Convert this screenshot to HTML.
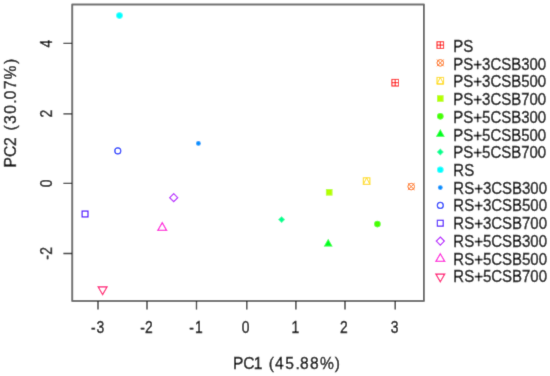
<!DOCTYPE html><html><head><meta charset="utf-8"><style>html,body{margin:0;padding:0;background:#fff;}svg{display:block;} text{font-family:"Liberation Sans",Arial,sans-serif;font-kerning:none;}</style></head><body>
<svg width="550" height="376" viewBox="0 0 550 376">
<defs><filter id="b" x="0" y="0" width="550" height="376" filterUnits="userSpaceOnUse"><feConvolveMatrix order="3" kernelMatrix="1 7 1 7 49 7 1 7 1" divisor="81" edgeMode="duplicate"/></filter></defs>
<rect width="550" height="376" fill="#fff"/>
<g filter="url(#b)"><rect width="550" height="376" fill="#fff"/>
<path d="M423.9 4.5V300.9" fill="none" stroke="#383838" stroke-width="1.5"/>
<path d="M72.2 4.5H423.9M423.9 300.9H72.2V4.5" fill="none" stroke="#6c6c6c" stroke-width="2.0" stroke-linejoin="round" stroke-linecap="round"/>
<path d="M98 300.9V309.4M147 300.9V309.4M196.5 300.9V309.4M246.8 300.9V309.4M295.9 300.9V309.4M345 300.9V309.4M395.2 300.9V309.4M72.2 43.4H63.4M72.2 113.9H63.4M72.2 183.4H63.4M72.2 253.5H63.4" stroke="#262626" stroke-width="1.35" fill="none"/>
<g fill="#000">
<text transform="translate(0 332.9) scale(0.88 1)" x="103.39 109.57" y="0" font-size="15.8" stroke="#000" stroke-width="0.35">-3</text>
<text transform="translate(0 332.9) scale(0.88 1)" x="159.24 164.92" y="0" font-size="15.8" stroke="#000" stroke-width="0.35">-2</text>
<text transform="translate(0 332.9) scale(0.88 1)" x="215.1 221.52" y="0" font-size="15.8" stroke="#000" stroke-width="0.35">-1</text>
<text transform="translate(0 332.9) scale(0.88 1)" x="274.81" y="0" font-size="15.8" stroke="#000" stroke-width="0.35">0</text>
<text transform="translate(0 332.9) scale(0.88 1)" x="331.24" y="0" font-size="15.8" stroke="#000" stroke-width="0.35">1</text>
<text transform="translate(0 332.9) scale(0.88 1)" x="386.35" y="0" font-size="15.8" stroke="#000" stroke-width="0.35">2</text>
<text transform="translate(0 332.9) scale(0.88 1)" x="443.95" y="0" font-size="15.8" stroke="#000" stroke-width="0.35">3</text>
<text transform="translate(51.6 0) rotate(-90) scale(0.88 1)" x="-54.12" y="0" font-size="15.8" stroke="#000" stroke-width="0.35">4</text>
<text transform="translate(51.6 0) rotate(-90) scale(0.88 1)" x="-133.6" y="0" font-size="15.8" stroke="#000" stroke-width="0.35">2</text>
<text transform="translate(51.6 0) rotate(-90) scale(0.88 1)" x="-212.86" y="0" font-size="15.8" stroke="#000" stroke-width="0.35">0</text>
<text transform="translate(51.6 0) rotate(-90) scale(0.88 1)" x="-295.24 -289.45" y="0" font-size="15.8" stroke="#000" stroke-width="0.35">-2</text>
<text x="233.07 243.37 253.7 264 268.86 275.11 285.28 295.38 300.06 310.06 320.06 334.84" y="369.2" font-size="15.6" stroke="#000" stroke-width="0.35">PC1 (45.88%)</text>
<text transform="translate(15.8 170) rotate(-90)" x="2.57 12.97 23.96 35 39.46 46.11 56.26 66.23 70.76 80.95 90.56 105.94" y="0" font-size="15.6" stroke="#000" stroke-width="0.35">PC2 (30.07%)</text>
<text transform="translate(453.37 51.9) scale(0.96 1)" font-size="15.6" stroke="#000" stroke-width="0.35">PS</text>
<text transform="translate(453.37 69.63) scale(0.96 1)" font-size="15.6" stroke="#000" stroke-width="0.35">PS+3CSB300</text>
<text transform="translate(453.37 87.36) scale(0.96 1)" font-size="15.6" stroke="#000" stroke-width="0.35">PS+3CSB500</text>
<text transform="translate(453.37 105.09) scale(0.96 1)" font-size="15.6" stroke="#000" stroke-width="0.35">PS+3CSB700</text>
<text transform="translate(453.37 122.82) scale(0.96 1)" font-size="15.6" stroke="#000" stroke-width="0.35">PS+5CSB300</text>
<text transform="translate(453.37 140.55) scale(0.96 1)" font-size="15.6" stroke="#000" stroke-width="0.35">PS+5CSB500</text>
<text transform="translate(453.37 158.28) scale(0.96 1)" font-size="15.6" stroke="#000" stroke-width="0.35">PS+5CSB700</text>
<text transform="translate(453.37 176.01) scale(0.96 1)" font-size="15.6" stroke="#000" stroke-width="0.35">RS</text>
<text transform="translate(453.37 193.74) scale(0.96 1)" font-size="15.6" stroke="#000" stroke-width="0.35">RS+3CSB300</text>
<text transform="translate(453.37 211.47) scale(0.96 1)" font-size="15.6" stroke="#000" stroke-width="0.35">RS+3CSB500</text>
<text transform="translate(453.37 229.2) scale(0.96 1)" font-size="15.6" stroke="#000" stroke-width="0.35">RS+3CSB700</text>
<text transform="translate(453.37 246.93) scale(0.96 1)" font-size="15.6" stroke="#000" stroke-width="0.35">RS+5CSB300</text>
<text transform="translate(453.37 264.66) scale(0.96 1)" font-size="15.6" stroke="#000" stroke-width="0.35">RS+5CSB500</text>
<text transform="translate(453.37 282.39) scale(0.96 1)" font-size="15.6" stroke="#000" stroke-width="0.35">RS+5CSB700</text>
</g>
<g>
<rect x="391.9" y="79.4" width="6.6" height="6.6" stroke="#FF0000" stroke-width="1.0" fill="none"/><path d="M391.9 82.7H398.5M395.2 79.4V86" stroke="#FF0000" stroke-width="1.0" fill="none"/>
<circle cx="411.2" cy="186.6" r="3.3" stroke="#FF6D00" stroke-width="1.0" fill="none"/><path d="M407.9 183.3L414.5 189.9M407.9 189.9L414.5 183.3" stroke="#FF6D00" stroke-width="1.0" fill="none"/>
<rect x="363.3" y="177.8" width="6.6" height="6.6" stroke="#FFDB00" stroke-width="1.0" fill="none"/><path d="M366.6 177.8L369.9 184.4L363.3 184.4Z" stroke="#FFDB00" stroke-width="1.0" fill="none"/>
<rect x="325.9" y="189" width="6.6" height="6.6" fill="#B6FF00"/>
<circle cx="377.4" cy="224.1" r="3.3" fill="#49FF00"/>
<path d="M328.2 238.77L332.64 246.47L323.76 246.47Z" fill="#00FF24"/>
<path d="M281.6 216.13L285.06 219.6L281.6 223.06L278.14 219.6Z" fill="#00FF92"/>
<circle cx="119.5" cy="15.6" r="3.3" fill="#00FFFF"/>
<circle cx="198.4" cy="143.4" r="2.38" fill="#0092FF"/>
<circle cx="117.8" cy="150.9" r="2.97" stroke="#0024FF" stroke-width="1.2" fill="none"/>
<rect x="82.13" y="211.08" width="5.85" height="5.85" stroke="#4900FF" stroke-width="1.2" fill="none"/>
<path d="M173.7 193.69L177.71 197.7L173.7 201.71L169.69 197.7Z" stroke="#B600FF" stroke-width="1.2" fill="none"/>
<path d="M162.2 222.67L166.64 230.37L157.76 230.37Z" stroke="#FF00DB" stroke-width="1.2" fill="none"/>
<path d="M102.6 294.63L107.04 286.93L98.16 286.93Z" stroke="#FF006D" stroke-width="1.2" fill="none"/>
<rect x="437" y="41.77" width="6.6" height="6.6" stroke="#FF0000" stroke-width="1.0" fill="none"/><path d="M437 45.07H443.6M440.3 41.77V48.37" stroke="#FF0000" stroke-width="1.0" fill="none"/>
<circle cx="440.3" cy="62.89" r="3.3" stroke="#FF6D00" stroke-width="1.0" fill="none"/><path d="M437 59.59L443.6 66.19M437 66.19L443.6 59.59" stroke="#FF6D00" stroke-width="1.0" fill="none"/>
<rect x="437" y="77.4" width="6.6" height="6.6" stroke="#FFDB00" stroke-width="1.0" fill="none"/><path d="M440.3 77.4L443.6 84L437 84Z" stroke="#FFDB00" stroke-width="1.0" fill="none"/>
<rect x="437" y="95.22" width="6.6" height="6.6" fill="#B6FF00"/>
<circle cx="440.3" cy="116.33" r="3.3" fill="#49FF00"/>
<path d="M440.3 129.02L444.74 136.72L435.86 136.72Z" fill="#00FF24"/>
<path d="M440.3 148.5L443.76 151.97L440.3 155.43L436.84 151.97Z" fill="#00FF92"/>
<circle cx="440.3" cy="169.78" r="3.3" fill="#00FFFF"/>
<circle cx="440.3" cy="187.6" r="2.38" fill="#0092FF"/>
<circle cx="440.3" cy="205.41" r="2.97" stroke="#0024FF" stroke-width="1.2" fill="none"/>
<rect x="437.38" y="220.31" width="5.85" height="5.85" stroke="#4900FF" stroke-width="1.2" fill="none"/>
<path d="M440.3 237.03L444.31 241.05L440.3 245.06L436.29 241.05Z" stroke="#B600FF" stroke-width="1.2" fill="none"/>
<path d="M440.3 253.73L444.74 261.43L435.86 261.43Z" stroke="#FF00DB" stroke-width="1.2" fill="none"/>
<path d="M440.3 281.81L444.74 274.11L435.86 274.11Z" stroke="#FF006D" stroke-width="1.2" fill="none"/>
</g>
</svg></body></html>
